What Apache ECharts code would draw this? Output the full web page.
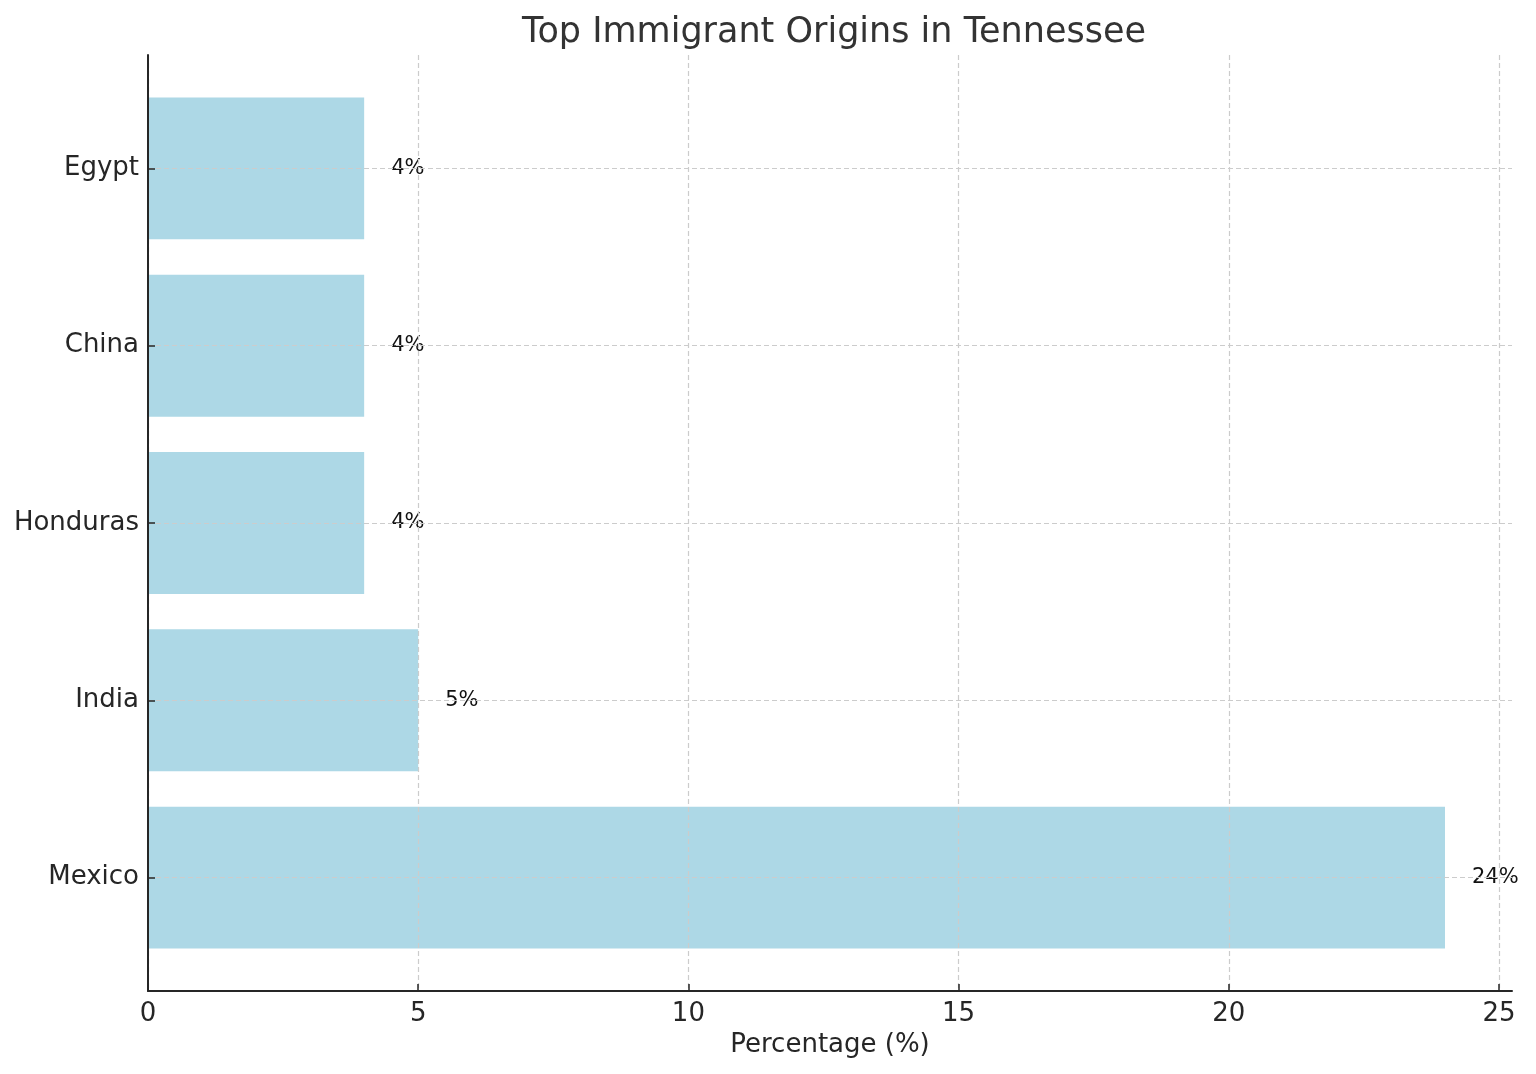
<!DOCTYPE html>
<html>
<head>
<meta charset="utf-8" />
<style>
  html, body { margin: 0; padding: 0; background: #fff; }
  #main { width: 1536px; height: 1074px; }
</style>
</head>
<body>
<div id="main"></div>
<script src="https://cdn.jsdelivr.net/npm/echarts@6/dist/echarts.min.js"></script>
<script>
  // bottom to top, like the picture
  var countries = ["Mexico", "India", "Honduras", "China", "Egypt"];
  var shares = [24, 5, 4, 4, 4];
  var xTicks = [0, 5, 10, 15, 20, 25];
  var yTicks = [0, 1, 2, 3, 4];

  var font = "DejaVu Sans";
  var ink = "#262626";
  var gridLine = { show: true, lineStyle: { color: "#cccccc", type: [5, 3], width: 1.2 } };

  var chart = echarts.init(document.getElementById("main"));
  chart.setOption({
    animation: false,
    backgroundColor: "#fff",
    title: {
      text: "Top Immigrant Origins in Tennessee",
      left: 829,
      top: 10,
      textAlign: "center",
      textStyle: { fontFamily: font, fontSize: 35, fontWeight: "normal", color: "#333" }
    },
    grid: [
      { left: 148, right: 24, top: 55, bottom: 83 },
      // inner grid for the bars: 5 bands of the same step as the outer value axis
      { left: 148, right: 24, top: 79.8, bottom: 107.8 }
    ],
    xAxis: [
      {
        gridIndex: 0,
        type: "value",
        min: 0,
        max: 25.24,
        z: 3,
        axisLine: { show: true, onZero: false, lineStyle: { color: ink, width: 2 } },
        axisTick: { show: true, inside: true, length: 7, customValues: xTicks, lineStyle: { color: ink, width: 1.5 } },
        axisLabel: { customValues: xTicks, margin: 10, fontFamily: font, fontSize: 26, color: ink },
        splitLine: gridLine,
        name: "Percentage (%)",
        nameLocation: "middle",
        nameGap: 38,
        nameTextStyle: { fontFamily: font, fontSize: 26, color: ink }
      },
      { gridIndex: 1, type: "value", min: 0, max: 25.24, show: false }
    ],
    yAxis: [
      {
        gridIndex: 0,
        type: "value",
        min: -0.64,
        max: 4.64,
        z: 3,
        axisLine: { show: true, onZero: false, lineStyle: { color: ink, width: 2 } },
        axisTick: { show: true, inside: true, length: 7, customValues: yTicks, lineStyle: { color: ink, width: 1.5 } },
        axisLabel: {
          customValues: yTicks,
          margin: 9,
          fontFamily: font,
          fontSize: 26,
          color: ink,
          formatter: function (v) { return countries[Math.round(v)]; }
        },
        splitLine: gridLine
      },
      { gridIndex: 1, type: "category", data: countries, show: false }
    ],
    series: [
      {
        type: "bar",
        xAxisIndex: 1,
        yAxisIndex: 1,
        data: shares,
        barCategoryGap: "20%",
        itemStyle: { color: "#add8e6" },
        label: {
          show: true,
          position: "right",
          distance: 27,
          formatter: "{c}%",
          fontFamily: font,
          fontSize: 21,
          color: "#111"
        }
      }
    ]
  });
</script>
</body>
</html>
